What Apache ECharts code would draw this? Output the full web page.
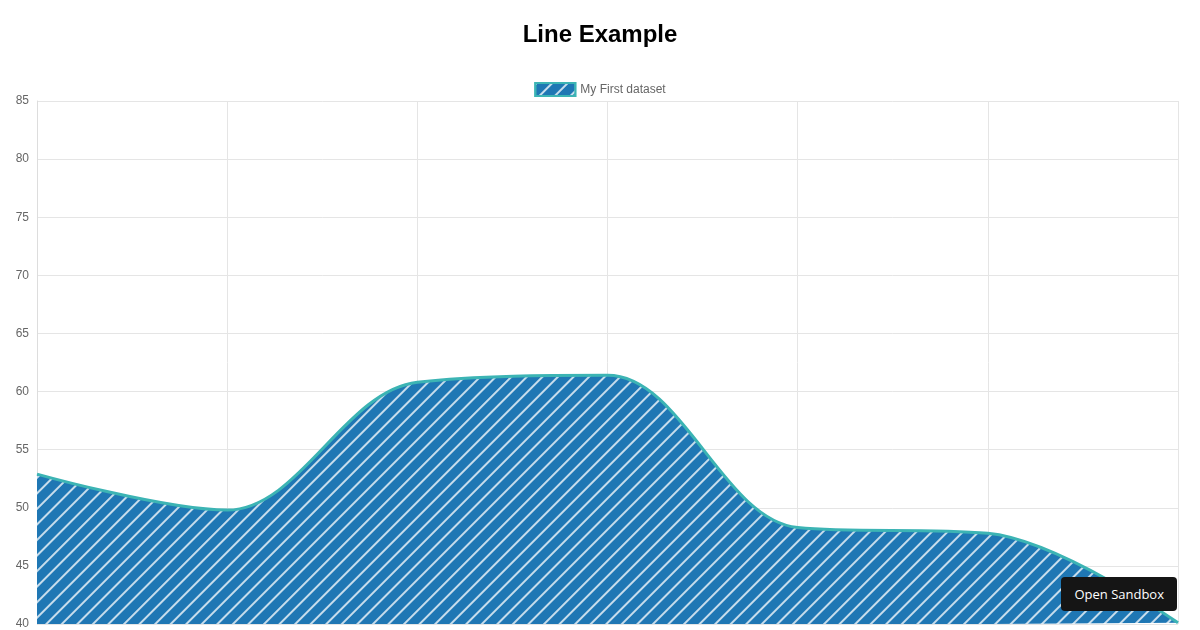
<!DOCTYPE html>
<html>
<head>
<meta charset="utf-8">
<script src="https://cdn.jsdelivr.net/npm/echarts@6/dist/echarts.min.js"></script>
<style>
  html, body { margin: 0; padding: 0; background: #fff; }
  #chart { width: 1200px; height: 630px; }
  .sandbox {
    position: absolute; right: 23px; bottom: 19px;
    background: #151515; color: #fff; border-radius: 4px;
    font: 13px "Open Sans", sans-serif; padding: 8px 13px;
  }
</style>
</head>
<body>
<div id="chart"></div>
<div class="sandbox">Open Sandbox</div>
<script>
const labels = ['January', 'February', 'March', 'April', 'May', 'June', 'July'];
const values = [52.9, 49.8, 60.8, 61.4, 48.3, 47.8, 40.1];

const chart = echarts.init(document.getElementById('chart'));

const hatch = {
  symbol: 'rect',
  dashArrayX: [1, 0],
  dashArrayY: [2, 9],
  rotation: -Math.PI / 4,
  color: 'rgba(255,255,255,0.75)'
};

chart.setOption({
  animation: false,
  title: {
    text: 'Line Example',
    left: 'center',
    top: 18,
    textStyle: { fontFamily: 'Liberation Sans', fontSize: 24, fontWeight: 'bold', color: '#000' }
  },
  legend: {
    top: 77,
    left: 'center',
    itemWidth: 40,
    itemHeight: 13,
    icon: 'rect',
    textStyle: { color: '#666', fontSize: 12, fontFamily: 'Liberation Sans' },
    data: ['My First dataset']
  },
  grid: { left: 37, right: 22, top: 101, bottom: -2 },
  xAxis: {
    type: 'category',
    boundaryGap: false,
    data: labels,
    axisLine: { show: false },
    axisTick: { show: false },
    axisLabel: { show: false },
    splitLine: { show: true, lineStyle: { color: '#e5e5e5' } }
  },
  yAxis: {
    type: 'value',
    min: 40,
    max: 85,
    interval: 5,
    axisLine: { show: true, lineStyle: { color: '#ddd' } },
    axisLabel: { color: '#666', fontSize: 12, margin: 8, fontFamily: 'Liberation Sans' },
    splitLine: { lineStyle: { color: '#e5e5e5' } }
  },
  series: [{
    name: 'My First dataset',
    type: 'line',
    data: values,
    smooth: 0.35,
    showSymbol: false,
    itemStyle: { color: '#1f77b4', borderColor: '#3cb4b4', borderWidth: 2, decal: hatch },
    lineStyle: { color: '#3cb4b4', width: 3 },
    areaStyle: { color: '#1f77b4', opacity: 1, decal: hatch }
  }]
});
</script>
</body>
</html>
